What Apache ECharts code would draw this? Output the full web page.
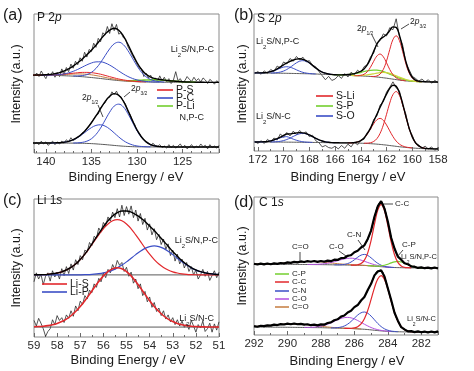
<!DOCTYPE html>
<html><head><meta charset="utf-8">
<script src="https://cdn.jsdelivr.net/npm/echarts@6/dist/echarts.min.js"></script>
<style>html,body{margin:0;padding:0;background:#fff}#c{width:474px;height:371px}</style>
</head><body><div id="c"></div>
<script>
// ===== Panel (a) P 2p =====
const aDataStart = 121, aDataStep = 0.25;
const aUpperData = [50.5,52.0,49.5,51.5,53.0,50.0,52.5,54.0,51.0,53.5,52.0,54.5,51.5,53.0,55.0,52.0,50.5,53.5,52.0,58.5,52.5,50.0,53.5,51.0,54.5,52.0,55.5,51.5,54.0,52.5,56.0,54.0,57.5,55.0,60.5,61.0,64.0,67.5,70.0,73.5,76.5,82.0,83.0,86.5,85.5,92.5,88.0,93.0,86.0,91.0,85.0,86.5,80.0,82.5,76.0,79.0,73.0,74.5,69.0,72.5,66.0,68.5,63.5,66.0,61.0,64.0,58.5,61.5,56.5,60.5,55.0,58.0,54.5,58.5,55.5,57.5,53.5,56.0,59.0,55.0,57.5,55.5];
const aLowerData = [5.5,3.5,5.0,4.0,6.0,3.0,5.5,4.5,6.5,4.0,5.0,3.5,6.0,4.5,3.0,5.5,4.0,6.5,5.0,3.5,5.5,4.0,6.0,3.5,5.0,4.0,6.0,4.5,5.5,7.0,5.5,7.5,8.0,9.5,11.0,14.5,16.0,20.5,23.0,27.5,30.0,35.0,37.5,40.5,41.0,44.5,42.0,44.0,40.0,39.5,36.0,34.5,32.5,28.0,27.0,24.5,22.0,19.5,18.0,15.0,14.5,12.0,11.5,10.0,9.0,11.0,8.0,9.5,7.0,8.5,6.5,8.0,6.0,8.5,7.0,5.5,8.0,6.5,8.5,6.0,7.5,6.5];
const aFitStart = 121, aFitStep = 0.5;
const aUpperEnv = [50.8,50.8,50.8,50.8,50.9,50.9,51.0,51.1,51.25,51.5,51.75,52.0,52.4,52.9,53.5,54.6,56.6,60.1,65.1,71.4,78.2,84.3,88.3,89.7,88.4,85.5,81.6,77.6,73.9,70.6,67.6,64.9,62.5,60.5,59.0,57.8,57.1,56.6,56.3,56.15,56.1,56.05];
const aUpperBase = [50.8,50.8,50.8,50.8,50.85,50.85,50.85,50.85,50.85,50.9,50.9,50.9,50.9,51.0,51.0,51.05,51.1,51.2,51.3,51.45,51.6,51.85,52.1,52.45,52.8,53.2,53.6,53.95,54.3,54.6,54.9,55.1,55.3,55.45,55.6,55.7,55.8,55.85,55.9,55.95,56.0,56.0];
const aUpPC1Start = 127, aUpPC1 = [51.0,51.35,51.8,52.85,54.8,58.1,62.7,68.25,73.7,77.95,79.7,78.55,74.9,70.0,65.0,60.85,58.0,56.4,55.7,55.45,55.4];
const aUpPC2Start = 127.5, aUpPC2 = [51.03,51.08,51.23,51.47,51.93,52.6,53.65,55.05,56.9,59.0,61.25,63.25,64.8,65.6,65.55,64.75,63.4,61.8,60.15,58.75,57.65,56.9,56.43,56.17,56.03,55.98,55.98];
const aUpPS1Start = 129, aUpPS1 = [51.14,51.28,51.45,51.73,52.07,52.61,53.24,54.05,54.92,55.84,56.69,57.34,57.8,57.99,57.99,57.74,57.42,57.05,56.74,56.46,56.27,56.13,56.05,56.03,56.04,56.0];
const aUpPS2Start = 129.5, aUpPS2 = [51.23,51.35,51.54,51.76,52.12,52.53,53.1,53.72,54.41,55.11,55.72,56.24,56.6,56.84,56.87,56.81,56.66,56.52,56.35,56.23,56.12,56.06,56.04,56.05,56.03];
const aUpPLiStart = 123.5, aUpPLi = [50.9,51.0,51.1,51.25,51.5,51.75,52.0,52.3,52.55,52.6,52.6,52.5,52.3,52.15,52.05,52.0];
const aLowerEnv = [4.3,4.3,4.3,4.3,4.3,4.3,4.3,4.32,4.32,4.33,4.33,4.34,4.45,4.6,5.05,6.0,8.0,11.5,16.65,23.45,30.7,37.3,41.55,42.75,40.85,36.95,31.9,26.65,21.75,17.5,14.05,11.4,9.6,8.4,7.75,7.4,7.3,7.2,7.2,7.2,7.2,7.2];
const aLowerBase = [4.3,4.3,4.3,4.3,4.3,4.3,4.3,4.32,4.32,4.33,4.33,4.34,4.35,4.35,4.35,4.38,4.4,4.42,4.45,4.55,4.7,4.9,5.15,5.45,5.75,6.05,6.3,6.55,6.75,6.9,7.0,7.05,7.1,7.12,7.14,7.16,7.18,7.2,7.2,7.2,7.2,7.2];
const aLoPC1Start = 127.5, aLoPC1 = [4.6,5.0,6.0,7.9,11.2,16.05,22.15,28.3,33.2,35.15,33.75,29.35,23.65,17.9,13.35,10.25,8.5,7.66,7.3,7.18];
const aLoPC2Start = 128.5, aLoPC2 = [4.43,4.5,4.69,5.05,5.85,7.1,9.0,11.55,14.45,17.25,19.35,20.3,19.85,18.25,15.9,13.4,11.15,9.5,8.42,7.74,7.43,7.28,7.2];

// ===== Panel (b) S 2p =====
const bStart = 158, bStep = 0.25;
const bUpperData = [50.0,51.5,49.5,52.0,50.5,52.5,51.0,53.0,54.5,59.5,64.5,77.5,83.5,96.5,88.5,90.0,84.0,85.5,80.5,79.0,71.5,68.5,63.0,61.5,57.0,59.0,55.5,57.5,54.0,56.5,53.0,55.0,52.5,51.5,54.5,52.0,55.0,58.0,61.5,62.5,66.0,65.0,68.5,66.5,69.0,65.5,67.5,63.5,65.0,60.5,62.0,58.0,59.5,56.5,58.5,56.0,58.0,56.5];
const bLowerData = [2.5,0.5,3.0,1.5,3.5,2.0,4.5,5.5,11.5,16.0,27.0,33.5,44.0,46.0,50.5,46.5,43.0,36.0,33.5,25.5,23.0,15.5,13.5,8.5,8.0,4.5,6.5,3.0,5.0,2.0,4.0,1.5,3.5,2.0,2.5,4.0,3.0,6.0,7.5,11.5,10.5,14.0,12.5,15.0,12.0,14.5,11.0,13.5,10.0,12.5,8.0,9.5,6.5,8.5,5.5,7.5,5.5,7.0];
const bUpperEnv = [50.3,50.35,50.4,50.45,50.5,50.7,50.95,51.8,53.85,58.1,65.4,75.2,84.6,90.2,90.6,87.9,85.0,83.2,81.5,77.9,72.7,67.2,62.8,59.9,58.2,57.2,56.5,56.1,55.8,55.7,55.6,55.6,55.7,55.9,56.2,56.8,57.6,58.9,60.6,62.5,64.4,65.9,66.9,67.3,67.1,66.4,65.5,64.3,62.9,61.4,59.9,58.7,57.9,57.4,57.1,57.0,57.0,57.0];
const bUpperBase = [50.3,50.35,50.4,50.45,50.5,50.55,50.6,50.7,50.85,51.0,51.2,51.45,51.75,52.1,52.45,52.8,53.15,53.45,53.75,54.0,54.2,54.4,54.55,54.7,54.8,54.9,55.0,55.1,55.2,55.3,55.4,55.5,55.6,55.7,55.8,55.9,56.0,56.1,56.2,56.28,56.35,56.4,56.45,56.5,56.55,56.6,56.65,56.7,56.75,56.78,56.8,56.83,56.85,56.88,56.9,56.93,56.95,56.98];
const bUpR1Start = 159.25, bUpR1 = [50.6,50.8,51.48,53.27,57.1,63.8,72.65,80.65,84.1,81.35,74.0,65.75,59.55,56.17,54.78,54.4,54.45];
const bUpR2Start = 160.5, bUpR2 = [51.22,51.56,52.16,53.39,55.7,59.5,64.4,68.75,70.75,69.3,65.45,61.1,57.8,55.99,55.21,55.01,55.02];
const bUpSP1Start = 159.25, bUpSP1 = [50.58,50.66,50.82,51.07,51.38,51.82,52.41,53.16,54.08,55.07,56.11,57.12,57.96,58.63,59.0,59.08,58.91,58.52,58.01,57.42,56.88,56.41,56.06,55.82,55.68,55.62,55.62,55.66,55.73];
const bUpSP2Start = 159.25, bUpSP2 = [50.59,50.68,50.88,51.19,51.6,52.2,52.97,53.91,54.93,55.88,56.65,57.15,57.3,57.18,56.83,56.36,55.92,55.55,55.3,55.14,55.08,55.08,55.14];
const bUpSO1Start = 167.5, bUpSO1 = [56.23,56.36,56.56,56.88,57.42,58.23,59.25,60.32,61.15,61.5,61.25,60.5,59.5,58.56,57.82,57.36,57.11,57.01,56.98,56.98];
const bUpSO2Start = 166, bUpSO2 = [55.67,55.88,56.22,56.76,57.63,58.9,60.55,62.4,64.17,65.44,65.95,65.54,64.37,62.72,61.0,59.5,58.38,57.64,57.22,57.01,56.92];
const bLowerEnv = [1.5,1.55,1.6,1.7,1.9,2.5,3.7,6.05,10.3,16.9,25.4,34.7,42.5,47.3,48.0,45.7,41.5,36.8,31.9,26.8,21.7,16.7,12.6,9.5,7.6,6.6,6.1,5.95,5.9,5.91,5.94,5.97,6.05,6.15,6.35,6.7,7.3,8.1,9.2,10.5,11.7,12.7,13.25,13.4,13.2,12.85,12.5,12.4,11.4,10.2,9.1,8.1,7.4,6.95,6.75,6.65,6.6,6.6];
const bLowerBase = [1.5,1.55,1.6,1.65,1.7,1.8,1.9,2.05,2.2,2.4,2.6,2.85,3.1,3.4,3.7,4.0,4.3,4.55,4.8,5.0,5.2,5.35,5.5,5.6,5.7,5.75,5.8,5.85,5.88,5.91,5.94,5.97,6.0,6.03,6.07,6.11,6.15,6.19,6.22,6.25,6.3,6.32,6.35,6.38,6.4,6.42,6.45,6.47,6.5,6.51,6.53,6.54,6.55,6.56,6.57,6.58,6.59,6.6];
const bLoR1Start = 158.75, bLoR1 = [1.72,1.93,2.48,3.66,6.05,10.3,16.8,25.1,33.85,40.6,43.4,41.2,35.0,26.8,18.95,12.9,9.0,6.96,6.03,5.73,5.67];
const bLoR2Start = 160, bLoR2 = [2.23,2.51,2.92,3.69,5.02,7.26,10.54,14.7,19.0,22.35,23.8,22.8,19.9,16.05,12.34,9.46,7.62,6.59,6.12,5.96,5.91];
const bLoSO1Start = 167.75, bLoSO1 = [6.27,6.37,6.5,6.75,7.19,7.84,8.67,9.55,10.47,10.25,9.61,8.78,7.98,7.36,6.96,6.75,6.65,6.61,6.6];
const bLoSO2Start = 166, bLoSO2 = [6.05,6.15,6.36,6.7,7.27,8.11,9.2,10.44,11.65,12.51,12.85,12.57,11.75,10.61,9.43,8.39,7.62,7.1,6.82,6.66,6.6];

// ===== Panel (c) Li 1s =====
const cDataStart = 51, cDataStep = 0.1;
const cUpperData = [47,43,48,44.5,41,47.5,44,49,45,42,48.5,45,51,47.5,54,50,56.5,53,60,55,63,59,67.5,63.5,71,67,74.5,70.5,78.5,74,82,77.5,86,81.5,89.5,84,92,86.5,95,89,94.5,88,95.5,87,93,86.5,90.5,84,87,80.5,83,76,79,71.5,73,66,68.5,61.5,63,56,59,52.5,56,48.5,53,46,51,44.5,49.5,42,47,43.5,48,40.5,46.5,44,38,45.5,42,46.5,40];
const cLowerData = [11,5,9.5,3.5,10,6,4,11.5,6.5,9,3.5,8,12,5.5,9.5,7,11.5,8,12.5,9,14,11,16,13,19,15.5,21,18.5,25,21.5,29,25.5,33,30,38.5,35,42,39,47,44,50.5,47.5,54,52,55.5,49,52.5,46.5,49,43,46.5,40,42.5,36,38.5,32,34,27.5,30,23.5,26,19,22.5,15,19,13.5,16,10.5,14,12,15.5,9,12.5,6,4,0.5,6,10,13.5,8,12];
const cFitStart = 51, cFitStep = 0.2;
const cUpperEnv = [45.3,45.5,45.9,46.5,47.35,48.6,50.3,52.5,55.2,58.5,61.9,65.8,69.6,73.4,77.1,80.5,83.7,86.5,88.7,90.5,91.35,91.3,90.1,87.7,84.2,79.8,74.9,69.8,64.8,60.1,56.2,52.9,50.4,48.6,47.2,46.4,45.8,45.4,45.2,45.1,45.1];
const cUpLiS = [45.0,45.0,45.01,45.03,45.06,45.12,45.24,45.44,45.79,46.36,47.24,48.56,50.4,52.9,56.1,60.0,64.5,69.3,74.0,78.4,81.9,84.2,85.0,84.2,81.9,78.4,74.0,69.3,64.5,60.0,56.1,52.9,50.4,48.56,47.24,46.36,45.79,45.44,45.24,45.12,45.06];
const cUpLiP = [45.27,45.5,45.87,46.44,47.29,48.49,50.08,52.1,54.45,57.1,59.7,62.2,64.2,65.5,66.0,65.5,64.2,62.2,59.7,57.1,54.45,52.1,50.08,48.49,47.29,46.44,45.87,45.5,45.27,45.14,45.07,45.03,45.0,45.0,45.0,45.0,45.0,45.0,45.0,45.0,45.0];
const cUpperBase = [45, 45];
const cLoLiS = [7.21,7.23,7.26,7.31,7.4,7.57,7.83,8.24,8.89,9.83,11.2,13.0,15.4,18.5,22.1,26.3,30.9,35.7,40.2,44.3,47.4,49.5,50.2,49.5,47.4,44.3,40.2,35.7,30.9,26.3,22.1,18.5,15.4,13.0,11.2,9.83,8.89,8.24,7.83,7.57,7.4];
const cLowerBase = [7.2, 7.2];

// ===== Panel (d) C 1s =====
const dStart = 281, dStep = 0.2;
const dUpperData = [48.2,48.9,48.3,48.8,48.4,49.0,48.6,49.5,49.7,51.3,52.0,54.6,56.8,62.7,70.5,82.3,91.6,97.0,93.2,85.6,75.7,69.6,65.0,63.4,61.0,60.0,57.8,57.4,55.8,55.7,54.4,54.6,53.5,53.9,53.1,53.6,53.0,53.6,53.1,53.5,52.9,53.3,52.6,53.0,52.3,52.6,51.8,52.2,51.5,51.9,51.3,51.8,51.2,51.7,51.1,51.6];
const dLowerData = [2.6,1.9,2.5,1.8,2.5,2.0,2.6,2.1,2.8,2.6,4.1,5.7,10.4,16.1,25.4,33.9,42.4,46.9,46.0,43.2,37.1,32.6,27.6,25.0,21.7,20.2,17.5,16.3,14.1,13.3,11.4,10.7,9.1,8.7,7.5,7.7,7.0,7.5,7.1,7.8,7.5,8.1,7.8,8.3,7.8,8.2,7.6,7.9,7.2,7.5,6.8,7.0,6.4,6.7,6.0,6.4];
const dUpperEnv = [48.5,48.52,48.54,48.56,48.61,48.69,48.87,49.25,49.91,50.95,52.33,54.21,57.14,62.32,70.82,81.86,92.02,96.59,93.65,85.27,76.08,69.23,65.3,63.02,61.27,59.64,58.16,57.02,56.13,55.4,54.78,54.24,53.83,53.56,53.4,53.34,53.32,53.32,53.32,53.28,53.18,53.06,52.9,52.72,52.51,52.31,52.12,51.95,51.81,51.69,51.6,51.53,51.48,51.46,51.44,51.44];
const dUpperBase = [48.5,48.52,48.54,48.56,48.58,48.6,48.62,48.64,48.66,48.68,48.7,48.77,48.83,48.9,49.0,49.1,49.3,49.5,49.7,49.9,50.1,50.25,50.4,50.48,50.55,50.6,50.64,50.68,50.72,50.76,50.8,50.84,50.88,50.92,50.96,51.0,51.02,51.04,51.06,51.08,51.1,51.12,51.14,51.16,51.18,51.2,51.22,51.24,51.26,51.28,51.3,51.32,51.34,51.36,51.38,51.4];
const dUpCCStart = 282.6, dUpCC = [48.66,48.76,49.06,50.06,52.64,58.17,67.5,79.4,90.1,94.5,90.5,80.2,68.6,59.52,54.21,51.77,50.91,50.68,50.64];
const dUpCPStart = 281.6, dUpCP = [48.56,48.61,48.69,48.87,49.25,49.91,50.87,51.97,52.92,53.33,53.05,52.27,51.29,50.55,50.11,49.95,49.99,50.13,50.25];
const dUpCNStart = 283.6, dUpCN = [48.9,49.05,49.26,49.75,50.58,51.92,53.8,55.91,57.63,58.4,57.86,56.36,54.5,52.86,51.76,51.17,50.92,50.85,50.85];
const dUpCOStart = 283.8, dUpCO = [49.0,49.21,49.52,49.9,50.38,50.98,51.72,52.54,53.43,54.25,54.96,55.45,55.64,55.53,55.13,54.53,53.83,53.13,52.5,52.0,51.64,51.4,51.24,51.15,51.12,51.11];
const dUpCdOStart = 284.8, dUpCdO = [49.9,50.12,50.29,50.46,50.58,50.69,50.81,50.94,51.09,51.27,51.47,51.7,51.95,52.21,52.48,52.72,52.94,53.1,53.21,53.26,53.25,53.18,53.06,52.9,52.72,52.51,52.31,52.12,51.95,51.81,51.69,51.6,51.53,51.48,51.46,51.44,51.44];
const dLowerEnv = [2.2,2.2,2.2,2.2,2.2,2.2,2.22,2.27,2.41,2.81,3.82,6.0,10.04,16.46,25.0,34.26,42.07,46.46,46.38,42.81,37.53,32.25,27.95,24.66,22.08,19.83,17.81,16.0,14.39,12.96,11.64,10.39,9.3,8.4,7.78,7.41,7.24,7.23,7.34,7.51,7.7,7.85,7.98,8.04,8.04,7.97,7.83,7.64,7.43,7.2,6.97,6.75,6.55,6.38,6.25,6.14];
const dLowerBase = [2.2,2.2,2.2,2.2,2.2,2.2,2.2,2.21,2.22,2.23,2.25,2.3,2.35,2.42,2.5,2.65,2.8,3.0,3.2,3.45,3.7,3.95,4.15,4.3,4.45,4.58,4.68,4.76,4.84,4.92,5.0,5.06,5.12,5.18,5.24,5.3,5.33,5.36,5.39,5.42,5.45,5.48,5.51,5.54,5.57,5.6,5.62,5.64,5.66,5.68,5.7,5.72,5.74,5.76,5.78,5.8];
const dLoCCStart = 282.2, dLoCC = [2.22,2.27,2.41,2.81,3.82,6.0,9.99,16.32,24.6,33.35,40.2,43.0,40.6,34.15,25.8,17.85,11.79,8.0,6.02,5.16,4.87,4.82,4.84];
const dLoCNStart = 283.4, dLoCN = [2.4,2.56,2.86,3.47,4.49,6.11,8.34,11.03,13.7,15.75,16.65,16.1,14.45,12.16,9.82,7.87,6.53,5.74,5.36,5.2,5.17];
const dLoCOStart = 283.8, dLoCO = [2.54,2.74,2.98,3.35,3.84,4.53,5.43,6.55,7.81,9.15,10.49,11.64,12.43,12.76,12.59,11.98,11.04,9.91,8.78,7.78,6.97,6.38,5.97,5.71,5.57,5.51,5.49];
const dLoCdOStart = 285.6, dLoCdO = [4.31,4.47,4.61,4.73,4.83,4.95,5.08,5.24,5.4,5.59,5.8,6.05,6.33,6.6,6.88,7.16,7.42,7.66,7.85,7.98,8.04,8.04,7.97,7.83,7.64,7.43,7.2,6.97,6.75,6.55,6.38,6.25,6.14];

// ===== rendering =====
const FF = '"Liberation Sans", Arial, sans-serif';
const RED = '#e2282c', BLUE = '#3b4ec6', GREEN = '#74cf2f', YEL = '#cdd63c', BROWN = '#c47b3f', PURP = '#b34fe0', GRAY = '#5a5a5a', DATA = '#2a2a2a';
function pts(start, step, vals) { return vals.map((v, i) => [Math.round((start + i * step) * 1000) / 1000, v]); }
const series = [];
function ln(g, start, step, vals, color, width, smooth, z) {
  series.push({ type: 'line', xAxisIndex: g, yAxisIndex: g, data: pts(start, step, vals), showSymbol: false, smooth: smooth ? 0.4 : false,
    lineStyle: { color: color, width: width }, itemStyle: { color: color }, z: z || 2, silent: true, animation: false });
}
// (a)
ln(0, aDataStart, aDataStep, aUpperData, DATA, 0.8, false, 1);
ln(0, aDataStart, aDataStep, aLowerData, DATA, 0.8, false, 1);
ln(0, aFitStart, aFitStep, aUpperBase, GRAY, 1, true);
ln(0, aFitStart, aFitStep, aLowerBase, GRAY, 1, true);
ln(0, aUpPLiStart, 0.5, aUpPLi, GREEN, 1.6, true);
ln(0, aUpPS2Start, 0.5, aUpPS2, BROWN, 1, true);
ln(0, aUpPS1Start, 0.5, aUpPS1, RED, 1, true);
ln(0, aUpPC1Start, 0.5, aUpPC1, BLUE, 1, true);
ln(0, aUpPC2Start, 0.5, aUpPC2, BLUE, 1, true);
ln(0, aLoPC1Start, 0.5, aLoPC1, BLUE, 1, true);
ln(0, aLoPC2Start, 0.5, aLoPC2, BLUE, 1, true);
ln(0, aFitStart, aFitStep, aUpperEnv, '#000', 1.4, true, 3);
ln(0, aFitStart, aFitStep, aLowerEnv, '#000', 1.4, true, 3);
// (b)
ln(1, bStart, bStep, bUpperData, DATA, 0.8, false, 1);
ln(1, bStart, bStep, bLowerData, DATA, 0.8, false, 1);
ln(1, bStart, bStep, bUpperBase, GRAY, 1, true);
ln(1, bStart, bStep, bLowerBase, GRAY, 1, true);
ln(1, bUpSP1Start, 0.25, bUpSP1, GREEN, 1.2, true);
ln(1, bUpSP2Start, 0.25, bUpSP2, YEL, 1.2, true);
ln(1, bUpR1Start, 0.25, bUpR1, RED, 1, true);
ln(1, bUpR2Start, 0.25, bUpR2, RED, 1, true);
ln(1, bUpSO1Start, 0.25, bUpSO1, BLUE, 1, true);
ln(1, bUpSO2Start, 0.25, bUpSO2, BLUE, 1, true);
ln(1, bLoR1Start, 0.25, bLoR1, RED, 1, true);
ln(1, bLoR2Start, 0.25, bLoR2, RED, 1, true);
ln(1, bLoSO1Start, 0.25, bLoSO1, BLUE, 1, true);
ln(1, bLoSO2Start, 0.25, bLoSO2, BLUE, 1, true);
ln(1, bStart, bStep, bUpperEnv, '#000', 1.4, true, 3);
ln(1, bStart, bStep, bLowerEnv, '#000', 1.4, true, 3);
// (c)
ln(2, cDataStart, cDataStep, cUpperData, DATA, 0.8, false, 1);
ln(2, cDataStart, cDataStep, cLowerData, DATA, 0.8, false, 1);
ln(2, 51, 8, cUpperBase, GRAY, 1, false);
ln(2, 51, 8, cLowerBase, GRAY, 1, false);
ln(2, cFitStart, cFitStep, cUpLiS, RED, 1.2, true);
ln(2, cFitStart, cFitStep, cUpLiP, BLUE, 1.2, true);
ln(2, cFitStart, cFitStep, cUpperEnv, '#000', 1.4, true, 3);
ln(2, cFitStart, cFitStep, cLoLiS, RED, 1.6, true, 3);
// (d)
ln(3, dStart, dStep, dUpperBase, GRAY, 1, true);
ln(3, dStart, dStep, dLowerBase, GRAY, 1, true);
ln(3, dUpCdOStart, dStep, dUpCdO, BROWN, 1, true);
ln(3, dUpCOStart, dStep, dUpCO, PURP, 1, true);
ln(3, dUpCNStart, dStep, dUpCN, BLUE, 1, true);
ln(3, dUpCPStart, dStep, dUpCP, GREEN, 1.2, true);
ln(3, dUpCCStart, dStep, dUpCC, RED, 1.2, true);
ln(3, dLoCdOStart, dStep, dLoCdO, BROWN, 1, true);
ln(3, dLoCOStart, dStep, dLoCO, PURP, 1, true);
ln(3, dLoCNStart, dStep, dLoCN, BLUE, 1, true);
ln(3, dLoCCStart, dStep, dLoCC, RED, 1.2, true);
ln(3, dStart, dStep, dUpperData, '#000', 2.2, false, 4);
ln(3, dStart, dStep, dLowerData, '#000', 2.2, false, 4);
ln(3, dStart, dStep, dUpperEnv, '#000', 1, true, 4);
ln(3, dStart, dStep, dLowerEnv, '#000', 1, true, 4);

const grids = [
  { left: 34, top: 14, width: 185, height: 139 },
  { left: 254, top: 14, width: 184, height: 137 },
  { left: 34, top: 199, width: 185, height: 138 },
  { left: 254, top: 197, width: 184, height: 138 }
].map(g => Object.assign({ show: true, borderColor: '#8a8a8a', borderWidth: 1, containLabel: false }, g));

function xa(g, min, max, extra, minor) {
  return Object.assign({ gridIndex: g, type: 'value', min: min, max: max, inverse: true,
    axisLine: { show: false }, splitLine: { show: false },
    axisTick: { show: true, inside: true, length: 4, lineStyle: { color: '#6a6a6a' } },
    minorTick: { show: true, splitNumber: minor, length: 2, lineStyle: { color: '#6a6a6a' } },
    axisLabel: { fontSize: 11.5, color: '#2a2a2a', fontFamily: FF, margin: 3 } }, extra || {});
}
const xAxes = [
  xa(0, 121, 141.3, { axisLabel: { fontSize: 11.5, color: '#2a2a2a', fontFamily: FF, margin: 3, showMinLabel: false, showMaxLabel: false } }, 5),
  xa(1, 158, 172.3, { interval: 2, axisLabel: { fontSize: 11.5, color: '#2a2a2a', fontFamily: FF, margin: 3, showMaxLabel: false } }, 2),
  xa(2, 51, 59, { interval: 1 }, 2),
  xa(3, 281, 292, { axisLabel: { fontSize: 11.5, color: '#2a2a2a', fontFamily: FF, margin: 3, showMinLabel: false } }, 2)
];
const yAxes = [0, 1, 2, 3].map(g => ({ gridIndex: g, type: 'value', min: 0, max: 100, show: true,
  axisLine: { show: false }, axisTick: { show: false }, axisLabel: { show: false }, splitLine: { show: false } }));

// ---- text & legend graphics ----
const G = [];
const INK = '#1a1a1a';
function T(x, y, text, size, o) {
  o = o || {};
  G.push({ type: 'text', x: x, y: y, rotation: o.rot || 0, silent: true, z: 10,
    style: { text: text, fontSize: size, fontFamily: FF, fill: INK, align: o.align || 'left', verticalAlign: 'middle', fontStyle: o.italic ? 'italic' : 'normal', rich: o.rich } });
}
function rich(fs) {
  const lh = fs + 4;
  return { n: { fontSize: fs, fontFamily: FF, fill: INK, verticalAlign: 'top', lineHeight: lh },
           i: { fontSize: fs, fontFamily: FF, fill: INK, fontStyle: 'italic', verticalAlign: 'top', lineHeight: lh },
           s: { fontSize: Math.round(fs * 0.62), fontFamily: FF, fill: INK, verticalAlign: 'bottom', lineHeight: lh } };
}
function L(x1, y1, x2, y2, color, w) {
  G.push({ type: 'line', silent: true, z: 10, shape: { x1: x1, y1: y1, x2: x2, y2: y2 }, style: { stroke: color, lineWidth: w || 1 } });
}
// panel titles
T(3, 16, '(a)', 16); T(37, 20, '{n|P 2}{i|p}', 12, { rich: rich(12) });
T(234, 16, '(b)', 16); T(257, 21, '{n|S 2}{i|p}', 12, { rich: rich(12) });
T(3, 201, '(c)', 16); T(37, 203, '{n|Li 1}{i|s}', 12, { rich: rich(12) });
T(234, 203, '(d)', 16); T(259, 205, '{n|C 1}{i|s}', 12, { rich: rich(12) });
// axis titles
[[126, 177], [348, 177], [128, 360], [347, 361]].forEach(p => T(p[0], p[1], 'Binding Energy / eV', 13, { align: 'center' }));
[[17, 84], [243, 84], [17, 268], [243, 266]].forEach(p => T(p[0], p[1], 'Intensity (a.u.)', 12.5, { align: 'center', rot: Math.PI / 2 }));
// sample labels
T(214, 52, '{n|Li}{s|2}{n|S/N,P-C}', 9, { align: 'right', rich: rich(9) });
T(204, 120, '{n|N,P-C}', 9, { align: 'right', rich: rich(9) });
T(256, 44, '{n|Li}{s|2}{n|S/N,P-C}', 9, { rich: rich(9) });
T(256, 119, '{n|Li}{s|2}{n|S/N-C}', 9, { rich: rich(9) });
T(218, 243, '{n|Li}{s|2}{n|S/N,P-C}', 9, { align: 'right', rich: rich(9) });
T(214, 321, '{n|Li}{s|2}{n|S/N-C}', 9, { align: 'right', rich: rich(9) });
T(437, 259, '{n|Li}{s|2}{n|S/N,P-C}', 7.5, { align: 'right', rich: rich(7.5) });
T(436, 321, '{n|Li}{s|2}{n|S/N-C}', 7.5, { align: 'right', rich: rich(7.5) });
// doublet annotations
T(82, 99, '{n|2}{i|p}{s|1/2}', 8.5, { rich: rich(8.5) }); L(98, 105, 103, 117, INK, 0.8);
T(131, 90, '{n|2}{i|p}{s|3/2}', 8.5, { rich: rich(8.5) }); L(130, 92, 124, 97, INK, 0.8);
T(357, 30, '{n|2}{i|p}{s|1/2}', 8.5, { rich: rich(8.5) }); L(372, 35, 378, 47, INK, 0.8);
T(410, 23, '{n|2}{i|p}{s|3/2}', 8.5, { rich: rich(8.5) }); L(409, 24, 401, 29, INK, 0.8);
// C 1s annotations
T(395, 204, 'C-C', 8); L(393, 204, 384, 204, INK, 0.8);
T(402, 245, 'C-P', 8); L(403, 250, 397, 257, INK, 0.8);
T(347, 235, 'C-N', 8); L(358, 240, 365, 250, INK, 0.8);
T(329, 247, 'C-O', 8); L(339, 251, 346, 256, INK, 0.8);
T(292, 247, 'C=O', 8); L(300, 252, 300, 261, INK, 0.8);
// legends
[['P-S', RED, 90], ['P-C', BLUE, 98], ['P-Li', GREEN, 106]].forEach(e => { L(157, e[2], 173, e[2], e[1], 1.6); T(176, e[2], e[0], 10.5); });
[['S-Li', RED, 96], ['S-P', GREEN, 106], ['S-O', BLUE, 116]].forEach(e => { L(316, e[2], 333, e[2], e[1], 1.6); T(336, e[2], e[0], 10.5); });
[['Li-S', RED, 284], ['Li-P', BLUE, 292]].forEach(e => { L(42, e[2], 67, e[2], e[1], 1.6); T(70, e[2], e[0], 10.5); });
[['C-P', GREEN, 274], ['C-C', RED, 282], ['C-N', BLUE, 291], ['C-O', PURP, 299], ['C=O', BROWN, 307]].forEach(e => { L(275, e[2], 289, e[2], e[1], 1.5); T(292, e[2], e[0], 8); });

const chart = echarts.init(document.getElementById('c'), null, { renderer: 'canvas' });
chart.setOption({ animation: false, backgroundColor: '#fff', grid: grids, xAxis: xAxes, yAxis: yAxes, series: series, graphic: G });
</script></body></html>
